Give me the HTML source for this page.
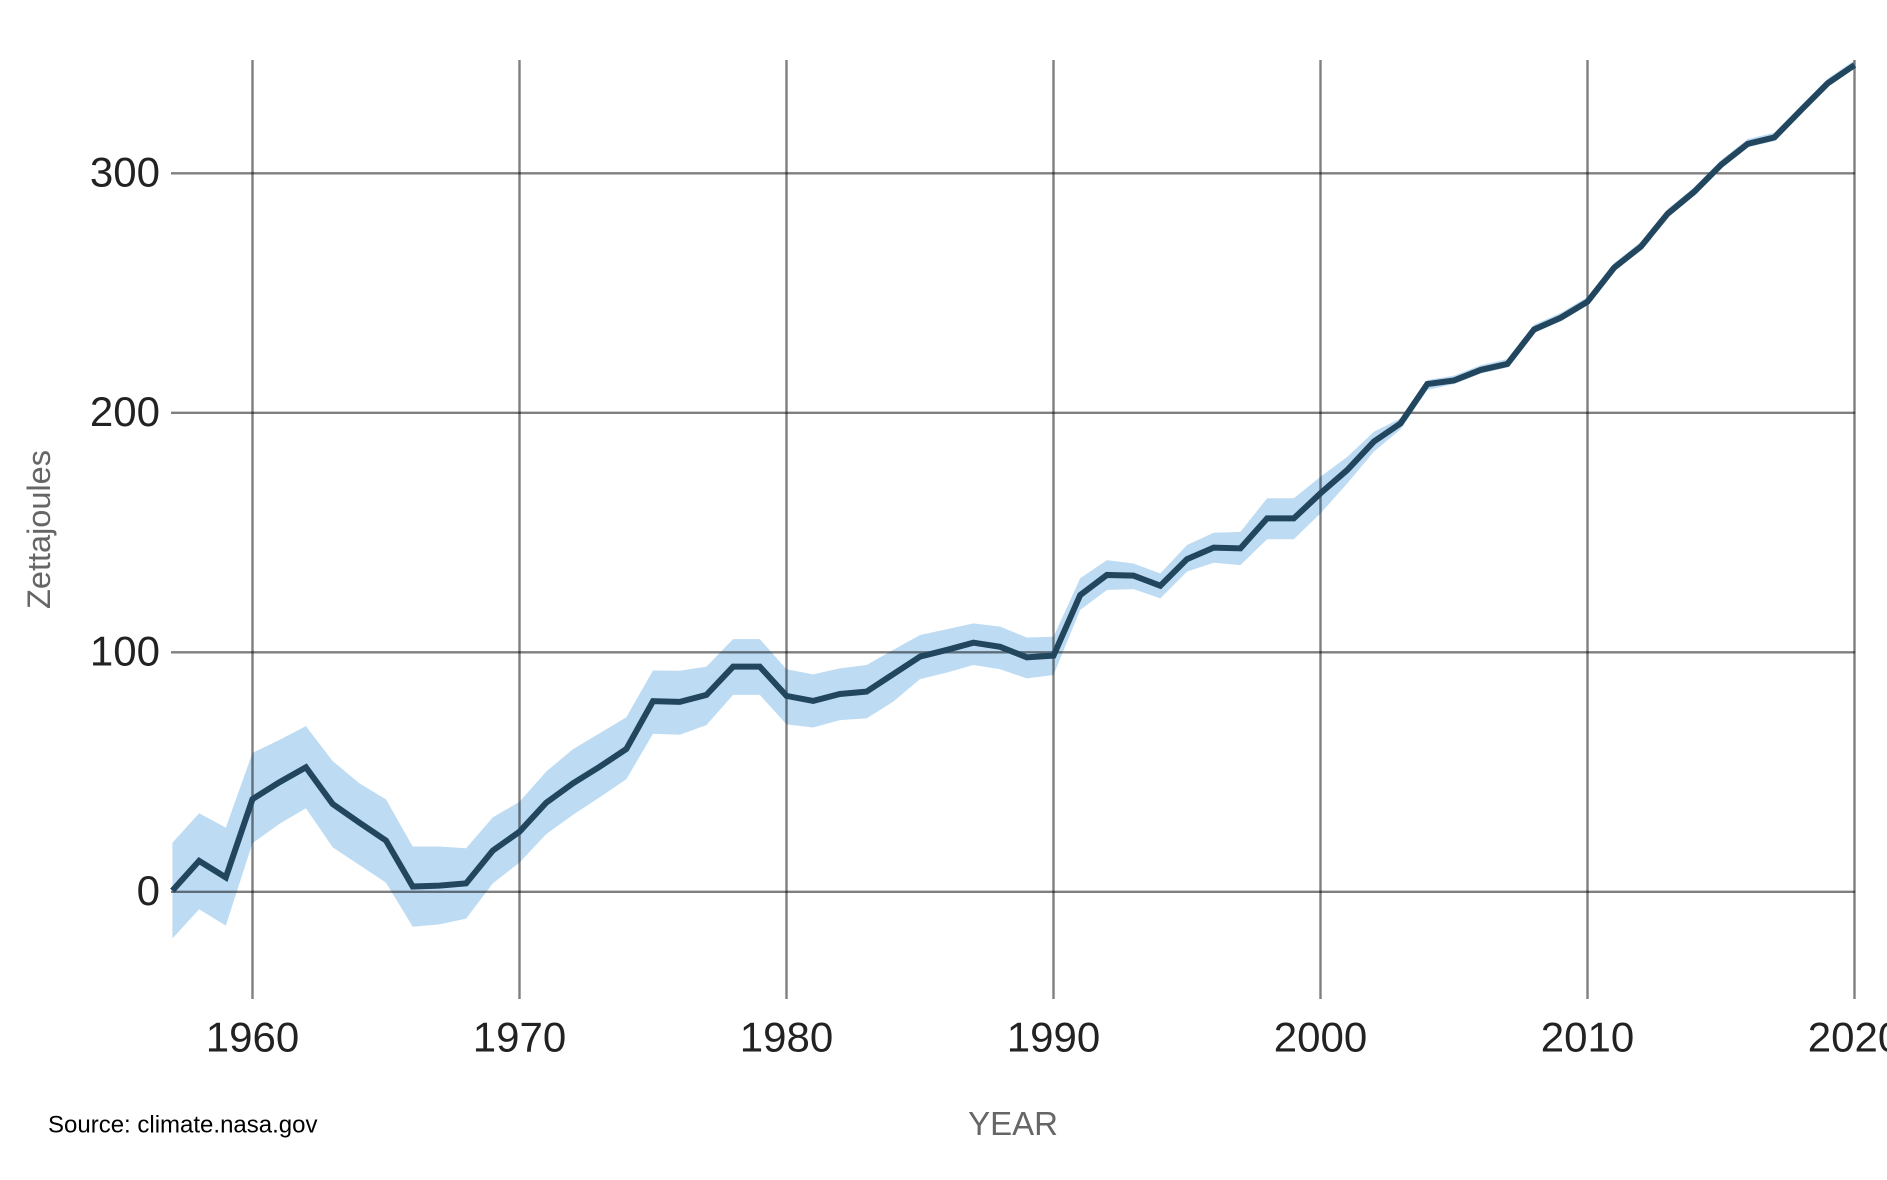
<!DOCTYPE html>
<html>
<head>
<meta charset="utf-8">
<style>
  html, body { margin: 0; padding: 0; background: #ffffff; }
  body { width: 1887px; height: 1180px; overflow: hidden; }
  svg { display: block; }
  .tick { font-family: "Liberation Sans", Arial, sans-serif; font-size: 42px; fill: #222222; }
  .axis { font-family: "Liberation Sans", Arial, sans-serif; font-size: 33px; fill: #666666; }
  .src { font-family: "Liberation Sans", Arial, sans-serif; font-size: 24px; fill: #000000; }
</style>
</head>
<body>
<svg width="1887" height="1180" viewBox="0 0 1887 1180" xmlns="http://www.w3.org/2000/svg">
  <rect x="0" y="0" width="1887" height="1180" fill="#ffffff"/>

  <g transform="translate(172.4,891.8) scale(26.7,-2.395)">
    <polygon fill="#bddcf4" points="
      0,-19.5 1,-7.3 2,-14.1 3,20.3 4,28.3 5,34.9 6,18.6 7,11.2 8,3.8 9,-14.6 10,-13.6 11,-11.2 12,3.5 13,12.2 14,24.1 15,32.1 16,39.4 17,47.0
      18,66.0 19,65.6 20,69.6 21,82.2 22,82.2 23,69.9 24,68.6 25,71.7 26,72.4 27,79.4 28,88.8 29,91.5 30,94.7 31,92.9 32,89.1 33,90.5
      34,117.7 35,126.0 36,126.4 37,122.5 38,133.7 39,137.4 40,136.4 41,147.2 42,147.2 43,158.0 44,170.5 45,183.8 46,193.1 47,209.5
      48,212.0 49,216.4 50,218.9 51,233.3 52,238.2 53,244.9 54,259.1 55,267.9 56,281.6 57,290.8 58,302.0 59,310.8 60,313.5 61,324.9 62,336.1 63,343.7
      63,347.2 62,339.6 61,328.4 60,317.0 59,314.3 58,305.5 57,294.3 56,285.1 55,271.4 54,262.6 53,248.4 52,241.7 51,236.8 50,222.4 49,219.9 48,215.5
      47,213.7 46,197.7 45,192.1 44,181.6 43,173.3 42,164.3 41,164.3 40,150.3 39,149.9 38,144.8 37,132.9 36,137.1 35,138.5 34,130.9
      33,106.5 32,106.2 31,110.7 30,112.1 29,109.6 28,107.2 27,101.0 26,94.7 25,93.3 24,90.8 23,92.9 22,105.5 21,105.5 20,94.0 19,92.3 18,92.4
      17,72.9 16,66.2 15,59.5 14,50.2 13,37.6 12,31.1 11,18.2 10,18.9 9,18.9 8,38.6 7,45.3 6,54.6 5,69.2 4,63.4 3,58.0 2,26.8 1,32.8 0,20.5"/>
  </g>

  <g stroke="#000000" stroke-opacity="0.5" stroke-width="2.4" fill="none">
    <line x1="171" y1="891.8" x2="1855" y2="891.8"/>
    <line x1="171" y1="652.3" x2="1855" y2="652.3"/>
    <line x1="171" y1="412.8" x2="1855" y2="412.8"/>
    <line x1="171" y1="173.3" x2="1855" y2="173.3"/>
    <line x1="252.5" y1="60" x2="252.5" y2="999"/>
    <line x1="519.5" y1="60" x2="519.5" y2="999"/>
    <line x1="786.5" y1="60" x2="786.5" y2="999"/>
    <line x1="1053.5" y1="60" x2="1053.5" y2="999"/>
    <line x1="1320.5" y1="60" x2="1320.5" y2="999"/>
    <line x1="1587.5" y1="60" x2="1587.5" y2="999"/>
    <line x1="1854.5" y1="60" x2="1854.5" y2="999"/>
  </g>

  <g transform="translate(172.4,891.8) scale(26.7,-2.395)">
    <polyline fill="none" stroke="#23465f" stroke-width="6" vector-effect="non-scaling-stroke" stroke-linejoin="miter" points="
      0,0.5 1,12.9 2,6.0 3,38.7 4,45.7 5,52.0 6,36.7 7,28.9 8,21.4 9,2.2 10,2.6 11,3.5 12,17.2 13,25.1 14,37.2 15,45.3 16,52.2 17,59.6
      18,79.6 19,79.3 20,82.2 21,94.0 22,94.0 23,81.8 24,79.7 25,82.6 26,83.6 27,90.9 28,98.2 29,101.0 30,104.0 31,102.3 32,97.9 33,98.6
      34,123.9 35,132.3 36,132.0 37,127.8 38,138.9 39,143.7 40,143.4 41,155.9 42,155.9 43,166.4 44,176.1 45,188.0 46,195.6 47,212.0
      48,213.5 49,217.9 50,220.4 51,234.8 52,239.7 53,246.4 54,260.6 55,269.4 56,283.1 57,292.3 58,303.5 59,312.3 60,315.0 61,326.4 62,337.6 63,345.2"/>
  </g>

  <g class="tick" text-anchor="end">
    <text x="160" y="905.2">0</text>
    <text x="160" y="665.7">100</text>
    <text x="160" y="426.2">200</text>
    <text x="160" y="186.7">300</text>
  </g>

  <g class="tick" text-anchor="middle">
    <text x="252.5" y="1051.7">1960</text>
    <text x="519.5" y="1051.7">1970</text>
    <text x="786.5" y="1051.7">1980</text>
    <text x="1053.5" y="1051.7">1990</text>
    <text x="1320.5" y="1051.7">2000</text>
    <text x="1587.5" y="1051.7">2010</text>
    <text x="1854.5" y="1051.7">2020</text>
  </g>

  <text class="axis" x="1013" y="1135" text-anchor="middle">YEAR</text>
  <text class="axis" style="font-size:32.5px" transform="translate(50,529.5) rotate(-90)" x="0" y="0" text-anchor="middle">Zettajoules</text>

  <text class="src" x="48" y="1132.7">Source: climate.nasa.gov</text>
</svg>
</body>
</html>
